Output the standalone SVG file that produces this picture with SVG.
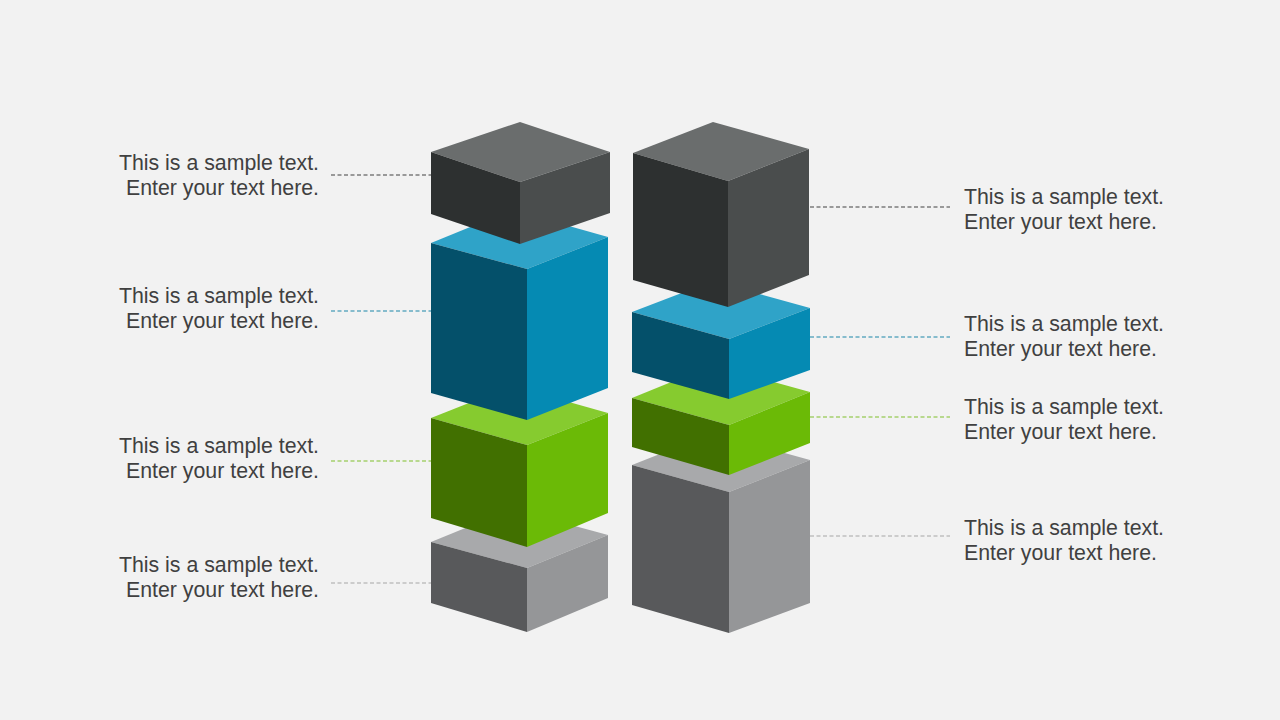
<svg xmlns="http://www.w3.org/2000/svg" width="1280" height="720" viewBox="0 0 1280 720">
<style>
.lbl{font-family:"Liberation Sans",Arial,sans-serif;font-size:21.3px;fill:#404040}
.l{text-anchor:end}
.c{fill:none;stroke-width:1;stroke-dasharray:4 2.5}
.dk-t{fill:#6a6d6d}.dk-l{fill:#2d3030}.dk-r{fill:#4a4d4d}
.bl-t{fill:#2fa3c8}.bl-l{fill:#04506a}.bl-r{fill:#058ab3}
.gr-t{fill:#86cb2f}.gr-l{fill:#417000}.gr-r{fill:#6bba06}
.gy-t{fill:#a8a9ab}.gy-l{fill:#58595b}.gy-r{fill:#959698}
</style>
<rect width="1280" height="720" fill="#f2f2f2"/>
<g id="connectors">
<line class="c" x1="331" y1="175" x2="431" y2="175" stroke="#404040"/>
<line class="c" x1="331" y1="311" x2="431" y2="311" stroke="#1a86a8"/>
<line class="c" x1="331" y1="461" x2="431" y2="461" stroke="#7fbf2a"/>
<line class="c" x1="331" y1="583" x2="431" y2="583" stroke="#a6a6a6"/>
<line class="c" x1="810" y1="207" x2="950" y2="207" stroke="#404040"/>
<line class="c" x1="810" y1="337" x2="950" y2="337" stroke="#1a86a8"/>
<line class="c" x1="810" y1="417" x2="950" y2="417" stroke="#7fbf2a"/>
<line class="c" x1="810" y1="536" x2="950" y2="536" stroke="#a6a6a6"/>
</g>
<g id="cube-left-gray">
<polygon class="gy-t" points="512,509 608,535 527,568 431,542"/>
<polygon class="gy-l" points="431,542 527,568 527,632 431,603"/>
<polygon class="gy-r" points="527,568 608,535 608,598 527,632"/>
</g>
<g id="cube-left-green">
<polygon class="gr-t" points="512,386 608,413 527,445 431,418"/>
<polygon class="gr-l" points="431,418 527,445 527,547 431,518"/>
<polygon class="gr-r" points="527,445 608,413 608,513 527,547"/>
</g>
<g id="cube-left-blue">
<polygon class="bl-t" points="512,210 608,237 527,269 431,243"/>
<polygon class="bl-l" points="431,243 527,269 527,420 431,393"/>
<polygon class="bl-r" points="527,269 608,237 608,388 527,420"/>
</g>
<g id="cube-left-dark">
<polygon class="dk-t" points="520,122 610,152 520,182 431,152"/>
<polygon class="dk-l" points="431,152 520,182 520,244 431,214"/>
<polygon class="dk-r" points="520,182 610,152 610,213 520,244"/>
</g>
<g id="cube-right-gray">
<polygon class="gy-t" points="713,433 810,460 729,492 632,465"/>
<polygon class="gy-l" points="632,465 729,492 729,633 632,605"/>
<polygon class="gy-r" points="729,492 810,460 810,603 729,633"/>
</g>
<g id="cube-right-green">
<polygon class="gr-t" points="713,365 810,392 729,425 632,398"/>
<polygon class="gr-l" points="632,398 729,425 729,475 632,447"/>
<polygon class="gr-r" points="729,425 810,392 810,443 729,475"/>
</g>
<g id="cube-right-blue">
<polygon class="bl-t" points="713,281 810,308 729,339 632,312"/>
<polygon class="bl-l" points="632,312 729,339 729,399 632,372"/>
<polygon class="bl-r" points="729,339 810,308 810,370 729,399"/>
</g>
<g id="cube-right-dark">
<polygon class="dk-t" points="713,122 809,149 728,181 633,153"/>
<polygon class="dk-l" points="633,153 728,181 728,307 633,280"/>
<polygon class="dk-r" points="728,181 809,149 809,275 728,307"/>
</g>
<g id="label-left-1"><text class="lbl l" x="319" y="170">This is a sample text.</text><text class="lbl l" x="319" y="195">Enter your text here.</text></g>
<g id="label-left-2"><text class="lbl l" x="319" y="303">This is a sample text.</text><text class="lbl l" x="319" y="328">Enter your text here.</text></g>
<g id="label-left-3"><text class="lbl l" x="319" y="453">This is a sample text.</text><text class="lbl l" x="319" y="478">Enter your text here.</text></g>
<g id="label-left-4"><text class="lbl l" x="319" y="572">This is a sample text.</text><text class="lbl l" x="319" y="597">Enter your text here.</text></g>
<g id="label-right-1"><text class="lbl" x="964" y="204">This is a sample text.</text><text class="lbl" x="964" y="229">Enter your text here.</text></g>
<g id="label-right-2"><text class="lbl" x="964" y="331">This is a sample text.</text><text class="lbl" x="964" y="356">Enter your text here.</text></g>
<g id="label-right-3"><text class="lbl" x="964" y="414">This is a sample text.</text><text class="lbl" x="964" y="439">Enter your text here.</text></g>
<g id="label-right-4"><text class="lbl" x="964" y="535">This is a sample text.</text><text class="lbl" x="964" y="560">Enter your text here.</text></g>
</svg>
